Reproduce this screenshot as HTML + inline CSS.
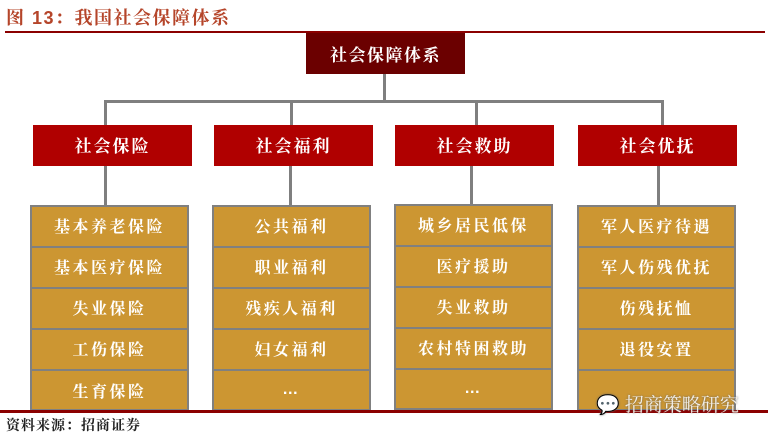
<!DOCTYPE html>
<html><head><meta charset="utf-8"><style>
*{margin:0;padding:0;box-sizing:border-box}
body{width:768px;height:438px;background:#fff;position:relative;overflow:hidden;font-family:"Liberation Sans","Noto Serif CJK SC","Noto Sans CJK SC",serif}
.a{position:absolute}
.t{left:6px;top:4px;font-size:18px;font-weight:bold;color:#b5452a;letter-spacing:1.5px}
.hl{left:5px;top:31px;width:760px;height:2px;background:#8b0000}
.bl{left:0;top:410px;width:768px;height:3px;background:#8b0000}
.top{left:306px;top:33px;width:159px;height:41px;background:#6b0000;color:#fff;font-size:17px;font-weight:bold;letter-spacing:1.5px;display:flex;align-items:center;justify-content:center}
.cat{top:125px;width:159px;height:41px;background:#b00000;color:#fff;font-size:17px;font-weight:bold;letter-spacing:2px;display:flex;align-items:center;justify-content:center;padding-bottom:3px}
.g{background:#7f7f7f}
.col{top:205px;width:159px;height:206px;border:2px solid #808080;background:#cc9632}
.col div{height:41px;border-bottom:2px solid #808080;color:#fff;font-size:16px;font-weight:bold;letter-spacing:2.5px;display:flex;align-items:center;justify-content:center;padding-bottom:3px}
.col div:last-child{border-bottom:none}
.src{left:6px;top:415px;font-size:14px;font-weight:bold;color:#222;letter-spacing:1px}
.wm{left:596px;top:390px;font-size:19px;color:#f4f0e8;text-shadow:0 0 2px #666}
</style></head><body>
<div class="a t">图 13：我国社会保障体系</div>
<div class="a hl"></div>
<div class="a top">社会保障体系</div>
<div class="a g" style="left:383px;top:74px;width:3px;height:28px"></div>
<div class="a g" style="left:104px;top:100px;width:560px;height:3px"></div>
<div class="a g" style="left:104px;top:100px;width:3px;height:25px"></div>
<div class="a g" style="left:290px;top:100px;width:3px;height:25px"></div>
<div class="a g" style="left:475px;top:100px;width:3px;height:25px"></div>
<div class="a g" style="left:661px;top:100px;width:3px;height:25px"></div>
<div class="a cat" style="left:33px">社会保险</div>
<div class="a cat" style="left:214px">社会福利</div>
<div class="a cat" style="left:395px">社会救助</div>
<div class="a cat" style="left:578px">社会优抚</div>
<div class="a g" style="left:104px;top:166px;width:3px;height:40px"></div>
<div class="a g" style="left:289px;top:166px;width:3px;height:40px"></div>
<div class="a g" style="left:470px;top:166px;width:3px;height:40px"></div>
<div class="a g" style="left:657px;top:166px;width:3px;height:40px"></div>
<div class="a col" style="left:30px"><div>基本养老保险</div><div>基本医疗保险</div><div>失业保险</div><div>工伤保险</div><div>生育保险</div></div>
<div class="a col" style="left:212px"><div>公共福利</div><div>职业福利</div><div>残疾人福利</div><div>妇女福利</div><div>…</div></div>
<div class="a col" style="left:394px;top:204px"><div>城乡居民低保</div><div>医疗援助</div><div>失业救助</div><div>农村特困救助</div><div>…</div></div>
<div class="a col" style="left:577px"><div>军人医疗待遇</div><div>军人伤残优抚</div><div>伤残抚恤</div><div>退役安置</div><div></div></div>
<div class="a bl"></div>
<div class="a wm">💬 招商策略研究</div>
<div class="a src">资料来源：招商证券</div>
</body></html>
